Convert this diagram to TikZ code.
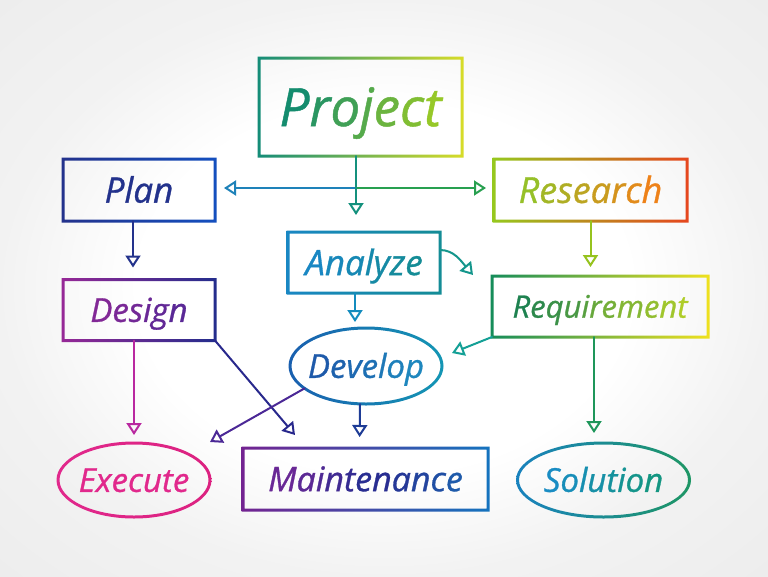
\documentclass[tikz,border=0pt]{standalone}
\usepackage{fontspec}
\setmainfont{Open Sans}
\newfontfamily\hand{Open Sans}[FakeBold=0.9]
\usetikzlibrary{arrows.meta,shapes.geometric,calc}
\definecolor{prA}{RGB}{20,140,110}
\definecolor{prB}{RGB}{150,200,40}
\definecolor{pbA}{RGB}{20,140,120}
\definecolor{pbB}{RGB}{215,220,40}
\definecolor{plan}{RGB}{35,50,140}
\definecolor{reA}{RGB}{150,192,40}
\definecolor{reB}{RGB}{238,130,25}
\definecolor{rbA}{RGB}{150,200,30}
\definecolor{rbM}{RGB}{238,205,25}
\definecolor{rbB}{RGB}{230,70,30}
\definecolor{anA}{RGB}{25,135,195}
\definecolor{anB}{RGB}{20,140,150}
\definecolor{rqA}{RGB}{30,130,80}
\definecolor{rqB}{RGB}{175,205,40}
\definecolor{rqbA}{RGB}{20,140,90}
\definecolor{rqbB}{RGB}{240,225,30}
\definecolor{deA}{RGB}{130,40,150}
\definecolor{deB}{RGB}{90,40,150}
\definecolor{dbA}{RGB}{150,40,150}
\definecolor{dbB}{RGB}{35,45,140}
\definecolor{dvA}{RGB}{30,90,170}
\definecolor{dvB}{RGB}{30,135,190}
\definecolor{dvbA}{RGB}{25,95,175}
\definecolor{dvbB}{RGB}{20,150,180}
\definecolor{ex}{RGB}{225,40,140}
\definecolor{maA}{RGB}{105,40,150}
\definecolor{maM}{RGB}{40,45,145}
\definecolor{maB}{RGB}{30,90,170}
\definecolor{mbA}{RGB}{115,35,145}
\definecolor{mbB}{RGB}{20,115,190}
\definecolor{soA}{RGB}{25,140,195}
\definecolor{soB}{RGB}{20,150,130}
\definecolor{sbA}{RGB}{25,130,190}
\definecolor{sbB}{RGB}{30,150,100}
\pgfdeclareradialshading{vig}{\pgfpoint{0bp}{0bp}}{color(0bp)=(white);color(16bp)=(white);color(25bp)=(black!5);color(50bp)=(black!10)}
\newcommand\gtext[4]{\foreach\lt[count=\ic from 0]in{#4}{\pgfmathtruncatemacro\pc{100-100*\ic/#3}\textcolor{#1!\pc!#2}{\lt}}}
\newcommand\ctr[1]{\makebox[0pt]{\raisebox{-0.36em}{#1}}}
\newcommand\gbox[2]{\shade[even odd rule,#2] ([shift={(-1.5pt,1.5pt)}]#1.north west) rectangle ([shift={(1.5pt,-1.5pt)}]#1.south east) ([shift={(1.5pt,-1.5pt)}]#1.north west) rectangle ([shift={(-1.5pt,1.5pt)}]#1.south east);}
\newcommand\gell[4]{\shade[even odd rule,#4] (#1.center) ellipse [x radius=#2pt+1.5pt, y radius=#3pt+1.5pt] (#1.center) ellipse [x radius=#2pt-1.5pt, y radius=#3pt-1.5pt];}
\begin{document}
\begin{tikzpicture}[x=1pt,y=-1pt,
  lbl/.style={inner sep=0pt, outer sep=0pt, text height=0pt, text depth=0pt},
  bx/.style={lbl, rectangle},
  el/.style={lbl, ellipse},
  fs/.style={font=\hand\itshape\fontsize{#1}{#1}\selectfont},
  conn/.style={line width=2pt, line cap=round, line join=round,
    -{Triangle[open,length=12pt,width=15pt,line width=2pt]}}
]
\useasboundingbox (0,0) rectangle (768,576);
\shade[shading=vig] (0,0) rectangle (768,576);

% nodes
\node[bx, fs=53, minimum width=203pt, minimum height=98pt] (Project) at (360.5,107) {\ctr{\gtext{prA}{prB}{6}{P,r,o,j,e,c,t}}};
\node[bx, fs=35, minimum width=152pt, minimum height=62pt] (Plan) at (139,190) {\ctr{\textcolor{plan}{Plan}}};
\node[bx, fs=36, minimum width=193pt, minimum height=62pt] (Research) at (590.5,190) {\ctr{\gtext{reA}{reB}{7}{R,e,s,e,a,r,c,h}}};
\node[bx, fs=35, minimum width=152pt, minimum height=61pt] (Analyze) at (364,262.5) {\ctr{\gtext{anA}{anB}{6}{A,n,a,l,y,z,e}}};
\node[bx, fs=31, minimum width=216pt, minimum height=61pt] (Requirement) at (600,306.5) {\ctr{\gtext{rqA}{rqB}{10}{R,e,q,u,i,r,e,m,e,n,t}}};
\node[bx, fs=33, minimum width=152pt, minimum height=61pt] (Design) at (139,310) {\ctr{\gtext{deA}{deB}{5}{D,e,s,i,g,n}}};
\node[el, fs=33, minimum width=152pt, minimum height=76pt] (Develop) at (366,366) {\ctr{\gtext{dvA}{dvB}{6}{D,e,v,e,l,o,p}}};
\node[el, fs=33, minimum width=152pt, minimum height=74pt] (Execute) at (134,480) {\ctr{\textcolor{ex}{Execute}}};
\node[bx, fs=34, minimum width=245pt, minimum height=62pt] (Maintenance) at (365.5,479) {\ctr{\gtext{maA}{maM}{5}{M,a,i,n,t,e}\gtext{maM}{maB}{4}{n,a,n,c,e}}};
\node[el, fs=33, minimum width=172pt, minimum height=74pt] (Solution) at (603.5,480) {\ctr{\gtext{soA}{soB}{7}{S,o,l,u,t,i,o,n}}};

% outlines
\gbox{Project}{left color=pbA, right color=pbB}
\gbox{Plan}{left color=plan, right color=plan!70!blue!80!cyan}
\gbox{Research}{left color=rbA, middle color=rbM, right color=rbB}
\gbox{Analyze}{left color=anA, right color=anB}
\gbox{Requirement}{left color=rqbA, right color=rqbB}
\gbox{Design}{left color=dbA, right color=dbB}
\gell{Develop}{76}{38}{left color=dvbA, right color=dvbB}
\gell{Execute}{76}{37}{left color=ex, right color=ex!85!purple}
\gbox{Maintenance}{left color=mbA, right color=mbB}
\gell{Solution}{86}{37}{left color=sbA, right color=sbB}

% connectors
\coordinate (j) at (356,188);
\draw[conn, draw={rgb,255:red,30;green,130;blue,185}, shorten >=9pt] (j) -- (j -| Plan.east);
\draw[conn, draw={rgb,255:red,40;green,160;blue,80}, shorten >=8pt] (j) -- (j -| Research.west);
\draw[conn, draw={rgb,255:red,20;green,145;blue,125}, shorten >=17pt] (Project.south -| j) -- (j |- Analyze.north);
\draw[conn, draw=plan, shorten >=12pt] ([xshift=-6pt]Plan.south) -- ([xshift=-6pt]Design.north);
\draw[conn, draw={rgb,255:red,150;green,195;blue,30}, shorten >=9pt] (Research.south) -- (Research.south |- Requirement.north);
\draw[conn, draw={rgb,255:red,20;green,150;blue,140}] ([yshift=12.5pt]Analyze.east) .. controls +(14,0) and +(-12,-14) .. ([xshift=-19pt,yshift=1pt]Requirement.north west);
\draw[conn, draw={rgb,255:red,20;green,140;blue,190}, shorten >=6pt] ([xshift=-9pt]Analyze.south) -- ([xshift=-11pt]Develop.north);
\draw[conn, draw={rgb,255:red,20;green,160;blue,150}] (Requirement.south west) -- ([shift={(10,-13)}]Develop.east);
\draw[conn, draw={rgb,255:red,185;green,40;blue,160}, shorten >=8pt] (Design.south -| Execute.north) -- (Execute.north);
\draw[conn, draw={rgb,255:red,40;green,40;blue,140}] (Design.south east) -- ([shift={(52,-13)}]Maintenance.north west);
\draw[conn, draw={rgb,255:red,75;green,40;blue,150}] (Develop.200) -- ([shift={(0,-38)}]Execute.east);
\draw[conn, draw={rgb,255:red,30;green,60;blue,150}, shorten >=11pt] ([xshift=-6pt]Develop.south) -- ([xshift=-6pt]Maintenance.north);
\draw[conn, draw={rgb,255:red,30;green,150;blue,90}, shorten >=10pt] ([xshift=-6pt]Requirement.south) -- ([xshift=-9.5pt]Solution.north);
\end{tikzpicture}
\end{document}
